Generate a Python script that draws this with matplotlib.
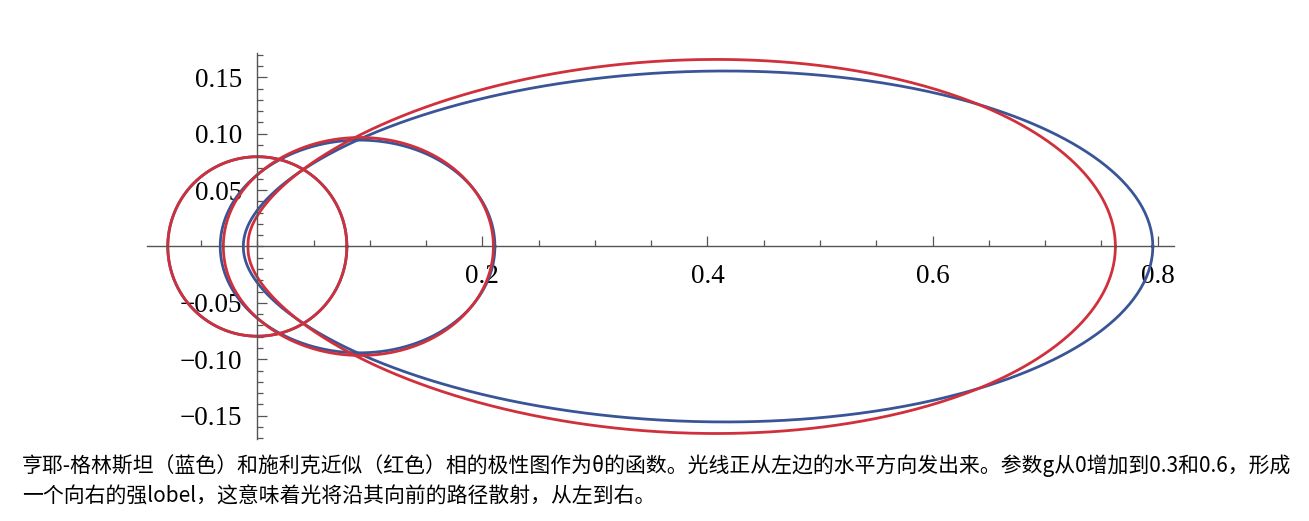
import numpy as np
import matplotlib.pyplot as plt
from matplotlib.ticker import FixedLocator, MultipleLocator

# asymmetry parameters of the three lobes
g_values = [0.0, 0.3, 0.6]
# Schlick k for each g (k ~ 1.55g - 0.55g^3)
schlick_k = [0.0, 0.45, 0.811]

x_ticks = [0.2, 0.4, 0.6, 0.8]
x_labels = ['0.2', '0.4', '0.6', '0.8']
y_ticks = [-0.15, -0.10, -0.05, 0.05, 0.10, 0.15]
y_labels = ['\u22120.15', '\u22120.10', '\u22120.05', '0.05', '0.10', '0.15']

caption = [
    '亨耶-格林斯坦（蓝色）和施利克近似（红色）相的极性图作为θ的函数。光线正从左边的水平方向发出来。参数g从0增加到0.3和0.6，形成',
    '一个向右的强lobel，这意味着光将沿其向前的路径散射，从左到右。',
]

blue = '#3a5597'
red = '#d0303b'
axis_gray = '#555555'


def henyey_greenstein(g, t):
    return (1 - g ** 2) / (4 * np.pi * (1 + g ** 2 - 2 * g * np.cos(t)) ** 1.5)


def schlick(k, t):
    return (1 - k ** 2) / (4 * np.pi * (1 - k * np.cos(t)) ** 2)


theta = np.linspace(0, 2 * np.pi, 2000)

W, H = 1309, 521
fig = plt.figure(figsize=(W / 100, H / 100), dpi=100)
ax = fig.add_axes([146.7 / W, 1 - 439 / H, (1174 - 146.7) / W, (439 - 52.7) / H])
ax.set_xlim(-0.0983, 0.8146)
ax.set_ylim(-0.1707, 0.1718)

# blue first, red drawn over it
for g in g_values:
    r = henyey_greenstein(g, theta)
    ax.plot(r * np.cos(theta), r * np.sin(theta), color=blue, lw=2.0)
for k in schlick_k:
    r = schlick(k, theta)
    ax.plot(r * np.cos(theta), r * np.sin(theta), color=red, lw=2.0)

# Mathematica style axes through the origin
for side in ['top', 'right']:
    ax.spines[side].set_visible(False)
for side in ['left', 'bottom']:
    ax.spines[side].set_position(('data', 0))
    ax.spines[side].set_color(axis_gray)
    ax.spines[side].set_linewidth(1.0)

ax.xaxis.set_major_locator(FixedLocator(x_ticks))
ax.xaxis.set_minor_locator(MultipleLocator(0.05))
ax.yaxis.set_major_locator(FixedLocator(y_ticks))
ax.yaxis.set_minor_locator(MultipleLocator(0.01))
ax.set_xticklabels(x_labels)
ax.set_yticklabels(y_labels)

ax.tick_params(which='both', direction='in', color=axis_gray, width=0.9)
ax.tick_params(which='major', length=7)
ax.tick_params(which='minor', length=4.3)
ax.tick_params(axis='x', which='major', pad=12.5)
ax.tick_params(axis='y', which='major', pad=11)
for lab in ax.get_xticklabels() + ax.get_yticklabels():
    lab.set_family('Liberation Serif')
    lab.set_fontsize(19.5)

fig.text(22 / W, 1 - 466 / H, caption[0], va='center', ha='left', fontsize=15.0,
         family=['Noto Sans CJK SC', 'DejaVu Sans'])
fig.text(22 / W, 1 - 497 / H, caption[1], va='center', ha='left', fontsize=15.0,
         family=['Noto Sans CJK SC', 'DejaVu Sans'])

fig.savefig('out.png', dpi=100)
